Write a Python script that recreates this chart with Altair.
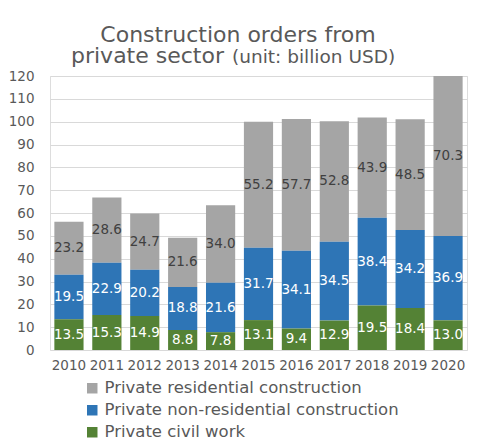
import altair as alt
import pandas as pd

years = ["2010", "2011", "2012", "2013", "2014", "2015", "2016", "2017", "2018", "2019", "2020"]
civil = [13.5, 15.3, 14.9, 8.8, 7.8, 13.1, 9.4, 12.9, 19.5, 18.4, 13.0]
nonres = [19.5, 22.9, 20.2, 18.8, 21.6, 31.7, 34.1, 34.5, 38.4, 34.2, 36.9]
resid = [23.2, 28.6, 24.7, 21.6, 34.0, 55.2, 57.7, 52.8, 43.9, 48.5, 70.3]

series = ["Private residential construction",
          "Private non-residential construction",
          "Private civil work"]
colors = ["#A5A5A5", "#2E75B6", "#548235"]
label_colors = ["#404040", "#FFFFFF", "#FFFFFF"]
y_ticks = list(range(0, 130, 10))

rows = []
for i, y in enumerate(years):
    for k, vals in enumerate([resid, nonres, civil]):
        rows.append({"year": y, "series": series[k], "value": vals[i],
                     "order": 2 - k, "lc": label_colors[k]})
df = pd.DataFrame(rows)

FONT = "DejaVu Sans"
GREY = "#595959"

base = alt.Chart(df).transform_stack(
    stack="value", groupby=["year"], as_=["y0", "y1"],
    sort=[alt.SortField("order", order="ascending")]
).transform_calculate(mid="(datum.y0 + datum.y1) / 2")

x_scale = alt.Scale(paddingInner=0.23, paddingOuter=0.115)
y_scale = alt.Scale(domain=[0, 120], nice=False)
x_axis = alt.Axis(title=None, labelAngle=0, domain=False, ticks=False,
                  labelPadding=8, labelFontSize=13.5, labelColor=GREY, labelFont=FONT)
y_axis = alt.Axis(title=None, values=y_ticks, grid=True, gridColor="#D9D9D9",
                  domain=False, ticks=False, labelPadding=16, labelOverlap=False,
                  labelFontSize=13.5, labelColor=GREY, labelFont=FONT)

bars = base.mark_bar(clip=True).encode(
    x=alt.X("year:N", sort=years, scale=x_scale, axis=x_axis),
    y=alt.Y("y0:Q", scale=y_scale, axis=y_axis),
    y2="y1:Q",
    color=alt.Color("series:N", scale=alt.Scale(domain=series, range=colors),
                    legend=alt.Legend(title=None, orient="none", legendX=34, legendY=304,
                                      symbolType="square", symbolSize=110,
                                      symbolStrokeWidth=0, labelFontSize=16.5,
                                      labelColor=GREY, labelFont=FONT, rowPadding=5,
                                      padding=0, labelLimit=400)),
)

labels = base.mark_text(fontSize=13.5, font=FONT, baseline="middle").encode(
    x=alt.X("year:N", sort=years, scale=x_scale, axis=x_axis),
    y=alt.Y("mid:Q", scale=y_scale, axis=y_axis),
    text=alt.Text("value:Q", format=".1f"),
    color=alt.Color("lc:N", scale=None),
)

one = alt.Data(values=[{"a": 1}])
t1 = alt.Chart(one).mark_text(fontSize=22, font=FONT, color=GREY, align="center",
                              baseline="alphabetic").encode(
    x=alt.value(188), y=alt.value(-34), text=alt.value("Construction orders from"))
t2 = alt.Chart(one).mark_text(fontSize=22, font=FONT, color=GREY, align="right",
                              baseline="alphabetic").encode(
    x=alt.value(174), y=alt.value(-13), text=alt.value("private sector"))
t3 = alt.Chart(one).mark_text(fontSize=18.5, font=FONT, color=GREY, align="left",
                              baseline="alphabetic").encode(
    x=alt.value(182), y=alt.value(-13), text=alt.value("(unit: billion USD)"))

chart = alt.layer(bars, labels, t1, t2, t3).properties(
    width=417, height=274,
    autosize=alt.AutoSizeParams(type="none"),
    padding={"left": 42, "top": 68, "right": 2, "bottom": 90},
).configure_view(stroke=None).configure(font=FONT)

chart.save("out.html", embed_options={"renderer": "svg", "actions": False})
